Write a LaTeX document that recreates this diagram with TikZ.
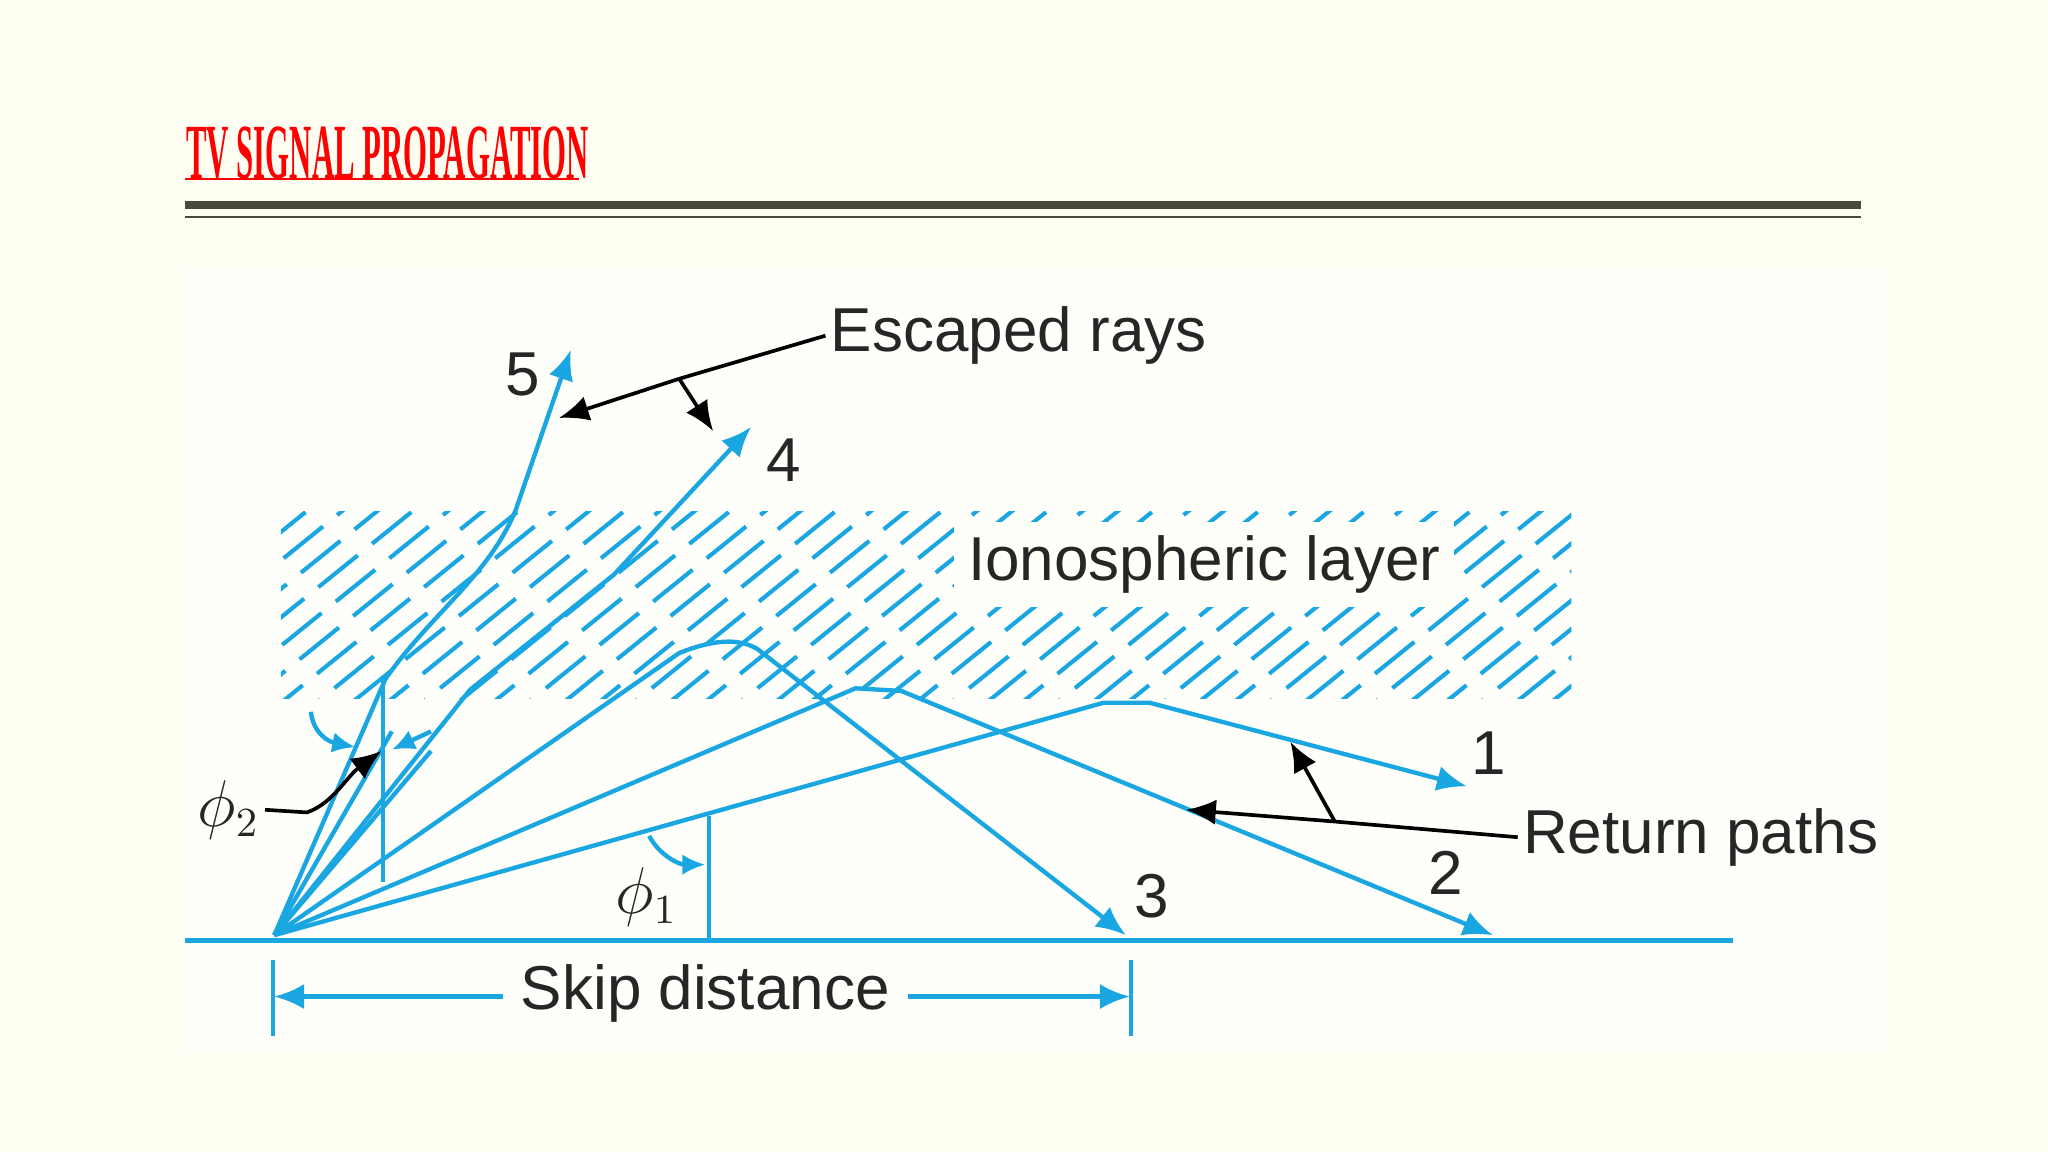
\documentclass[tikz,border=0pt]{standalone}
\usepackage{fontspec}
\setmainfont{Liberation Sans}
\newfontfamily\titlefont{Liberation Serif}
\usetikzlibrary{arrows.meta}
\definecolor{bgc}{HTML}{FEFEF2}
\definecolor{cy}{HTML}{1AA7E1}
\definecolor{rulec}{HTML}{4A4A3A}
\tikzset{ray/.style={cy,line width=0.95pt},
  tipr/.style={-{Latex[length=6.5pt,width=5.5pt]}},
  blk/.style={black,line width=0.8pt,-{Latex[length=6.5pt,width=5.5pt]}},
  lbl/.style={font=\fontsize{13.5}{14}\selectfont,inner sep=1pt,text=black!85}}
\begin{document}
\begin{tikzpicture}[x=0.01cm,y=-0.01cm]
\useasboundingbox (0,0) rectangle (1568,882);
\fill[bgc] (0,0) rectangle (1568,882);
\fill[white!60!bgc] (140,205) rectangle (1445,805);
% title
\node[anchor=west,text=red,inner sep=0,font=\titlefont\bfseries\fontsize{10}{10}\selectfont] (title) at (142,117) {\scalebox{0.67}[1.7]{TV SIGNAL PROPAGATION}};
\draw[red,line width=0.6pt] (142,137) -- (443,137);
\draw[rulec,line width=1.6pt] (142,157) -- (1425,157);
\draw[rulec,line width=0.5pt] (142,166) -- (1425,166);
% hatch
\begin{scope}
\clip (215,392) rectangle (1203,535);
\foreach \i in {-10,...,50}{
  \draw[cy,line width=0.9pt,dash pattern=on 11pt off 4pt, dash phase={mod(\i*5,15)*1pt}] (215+\i*27,560) -- ++(260,-210);
}
\end{scope}
\node[lbl,fill=white!60!bgc,inner sep=3pt] (iono) at (922,432) {Ionospheric layer};
% ground
\coordinate (O) at (210,716);
\draw[ray] (142,720) -- (1327,720);
% rays
\draw[ray,tipr] (O) -- (295,520) .. controls (330,470) and (375,440) .. (395,390) -- (437,268);
\draw[ray,tipr] (O) -- (360,528) -- (470,440) -- (575,327);
\draw[ray,tipr] (O) -- (520,500) .. controls (545,490) and (565,488) .. (580,497) -- (862,716);
\draw[ray,tipr] (O) -- (655,527) -- (690,529) -- (1143,716);
\draw[ray,tipr] (O) -- (845,538) -- (880,538) -- (1123,602);
\draw[ray] (O) -- (300,560);
\draw[ray] (O) -- (330,575);
\draw[ray] (293,520) -- (293,675);
\draw[ray] (543,625) -- (543,720);
% angle arrows
\draw[ray,-{Latex[length=5pt,width=4.5pt]}] (238,545) .. controls (240,562) and (252,568) .. (272,572);
\draw[ray,-{Latex[length=5pt,width=4.5pt]}] (330,560) -- (300,574);
\draw[ray,-{Latex[length=5pt,width=4.5pt]}] (497,640) .. controls (505,655) and (520,662) .. (540,662);
% labels
\node[lbl] (n5) at (400,287) {5};
\node[lbl] (n4) at (600,352) {4};
\node[lbl] (n3) at (882,686) {3};
\node[lbl] (n2) at (1107,668) {2};
\node[lbl] (n1) at (1140,577) {1};
\node[lbl] (phi2) at (175,620) {$\phi_2$};
\node[lbl] (phi1) at (495,687) {$\phi_1$};
\draw[black,line width=0.8pt,-{Latex[length=6.5pt,width=5.5pt]}] (phi2.east) -- (235,622) .. controls (255,615) and (265,595) .. (292,575);
% escaped
\node[lbl,anchor=west] (esc) at (632,257) {Escaped rays};
\coordinate (ej) at (520,290);
\draw[black,line width=0.8pt] (esc.west) -- (ej);
\draw[blk] (ej) -- (428,320);
\draw[blk] (ej) -- (546,330);
% return
\node[lbl,anchor=west] (ret) at (1162,641) {Return paths};
\coordinate (rj) at (1022,629);
\draw[black,line width=0.8pt] (ret.west) -- (rj);
\draw[blk] (rj) -- (908,620);
\draw[blk] (rj) -- (988,568);
% skip distance
\draw[ray] (209,735) -- (209,793);
\draw[ray] (866,735) -- (866,793);
\node[lbl] (skip) at (540,761) {Skip distance};
\coordinate (sl) at (385,763);
\coordinate (sr) at (695,763);
\draw[ray,tipr] (sl) -- (210,763);
\draw[ray,tipr] (sr) -- (865,763);
\end{tikzpicture}
\end{document}
